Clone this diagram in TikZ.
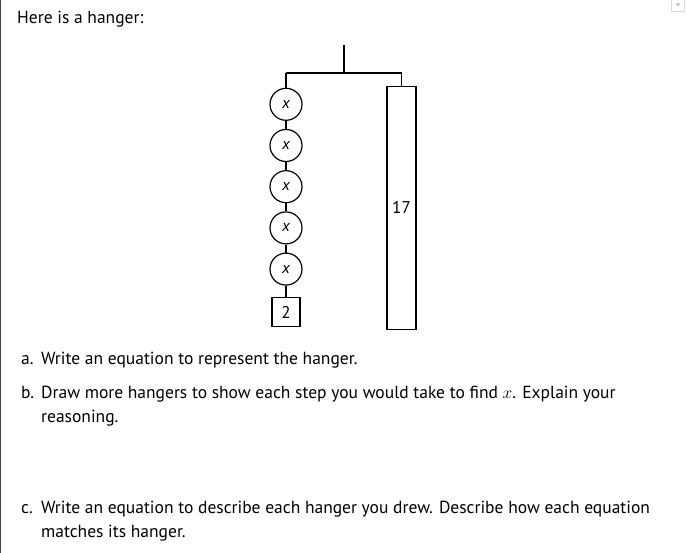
\documentclass[tikz,border=0pt]{standalone}
\usepackage{fontspec}
\setmainfont{PT Sans}
\usetikzlibrary{positioning}
\tikzset{
  weight/.style={circle, draw, line width=1.2pt, minimum size=32pt, inner sep=0pt,
    font=\fontsize{16}{16}\selectfont\itshape},
  unitbox/.style={rectangle, draw, line width=1.2pt, minimum width=28pt,
    minimum height=29pt, inner sep=0pt, font=\fontsize{17}{17}\selectfont},
  bigbox/.style={rectangle, draw, line width=1.2pt, minimum width=29pt,
    minimum height=243pt, inner sep=0pt, font=\fontsize{17}{17}\selectfont},
  string/.style={line width=1.4pt},
  prompt/.style={anchor=base west, inner sep=0pt, font=\fontsize{17.5}{17.5}\selectfont}
}

\begin{document}
\begin{tikzpicture}[x=1pt, y=-1pt]
  \useasboundingbox (0,0) rectangle (687,553);
  % frame and menu button
  \draw[black!75, line width=1.2pt] (0.6,0) -- (0.6,553);
  \draw[black!15, line width=0.6pt] (671.5,-1) rectangle (684.5,11.5);
  \fill[black!25] (675.5,3.5) -- (680.5,3.5) -- (678,6.5) -- cycle;

  \node[prompt] (intro) at (17,24) {Here is a hanger:};

  % the hanger
  \coordinate (hook) at (344,45);
  \coordinate (pivot) at (344,73);
  \coordinate (beamL) at (286,73);
  \coordinate (beamR) at (401.5,73);
  \node[weight] (x1) at (286,104.3) {x};
  \node[weight, below=8pt of x1] (x2) {x};
  \node[weight, below=8pt of x2] (x3) {x};
  \node[weight, below=8pt of x3] (x4) {x};
  \node[weight, below=8pt of x4] (x5) {x};
  \node[unitbox, below=11.5pt of x5] (two) {2};
  \node[bigbox, anchor=north] (seventeen) at (401.5,85.7) {17};
  \draw[string, line width=1.9pt] (hook) -- (pivot);
  \draw[string] (beamL) -- (beamR);
  \draw[string] (beamL) -- (x1);
  \draw[string] (x1) -- (x2);
  \draw[string] (x2) -- (x3);
  \draw[string] (x3) -- (x4);
  \draw[string] (x4) -- (x5);
  \draw[string] (x5) -- (two);
  \draw[string] (beamR) -- (seventeen);

  % questions
  \node[prompt] (qa) at (21,364) {a.};
  \node[prompt] (qa1) at (41,364) {Write an equation to represent the hanger.};
  \node[prompt] (qb) at (21,398) {b.};
  \node[prompt] (qb1) at (41,398) {Draw more hangers to show each step you would take to find $x$. Explain your};
  \node[prompt] (qb2) at (41,422) {reasoning.};
  \node[prompt] (qc) at (21,513) {c.};
  \node[prompt] (qc1) at (41,513) {Write an equation to describe each hanger you drew. Describe how each equation};
  \node[prompt] (qc2) at (41,537) {matches its hanger.};
\end{tikzpicture}
\end{document}
